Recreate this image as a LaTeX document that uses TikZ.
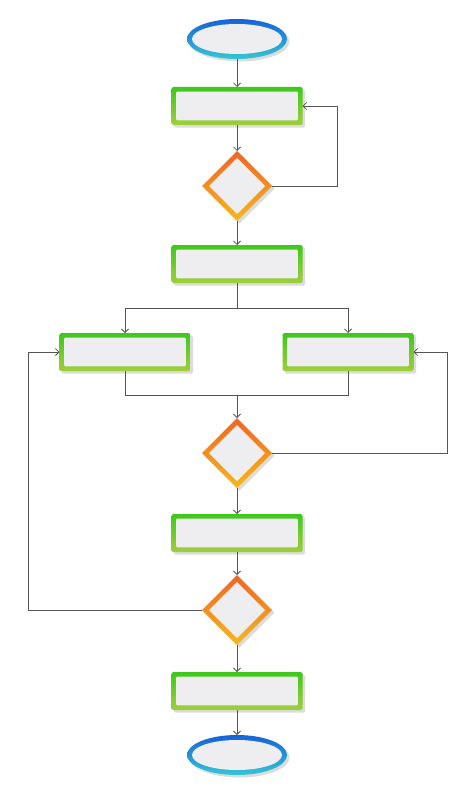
\documentclass[tikz,border=0pt]{standalone}
\usetikzlibrary{shapes.geometric,arrows.meta,shadows}
\definecolor{gtop}{HTML}{3EC81C}
\definecolor{gbot}{HTML}{A0CE3A}
\definecolor{otop}{HTML}{EE6624}
\definecolor{obot}{HTML}{F7B81C}
\definecolor{btop}{HTML}{1462D8}
\definecolor{bbot}{HTML}{36C6D4}
\definecolor{innerc}{HTML}{EEEEF1}
\definecolor{linec}{HTML}{555555}
\tikzset{
  base/.style={inner sep=0pt, outer sep=0pt, draw=none,
    drop shadow={shadow xshift=2.5pt, shadow yshift=-2.5pt, fill=black!30, opacity=0.45}},
  box/.style={base, rectangle, rounded corners=1.5pt, minimum width=131pt, minimum height=38pt,
    top color=gtop, bottom color=gbot,
    path picture={\fill[innerc, rounded corners=1pt]
      ([shift={(4.7pt,4.7pt)}]path picture bounding box.south west) rectangle
      ([shift={(-4.7pt,-4.7pt)}]path picture bounding box.north east);}},
  decis/.style={base, diamond, minimum width=70pt, minimum height=70pt,
    top color=otop, bottom color=obot,
    path picture={\fill[innerc]
      ([yshift=28pt]path picture bounding box.center) --
      ([xshift=28pt]path picture bounding box.center) --
      ([yshift=-28pt]path picture bounding box.center) --
      ([xshift=-28pt]path picture bounding box.center) -- cycle;}},
  term/.style={base, ellipse, minimum width=100pt, minimum height=40pt,
    top color=btop, bottom color=bbot,
    path picture={\fill[innerc] (path picture bounding box.center)
      ellipse [x radius=45pt, y radius=15pt];}},
  conn/.style={draw=linec, line width=0.8pt},
  arr/.style={conn, -{Straight Barb[length=3.5pt,width=7pt]}}
}
\begin{document}
\begin{tikzpicture}[x=1pt,y=-1pt]
\useasboundingbox[fill=white] (0,0) rectangle (474,797);
\node[term] (e0) at (237,39) {};
\node[box] (r1) at (237,106) {};
\node[decis] (d1) at (237,186) {};
\node[box] (r2) at (237,264) {};
\node[box] (r3) at (125,352) {};
\node[box] (r4) at (348,352) {};
\node[decis] (d2) at (237,453) {};
\node[box] (r5) at (237,533) {};
\node[decis] (d3) at (237,610) {};
\node[box] (r6) at (237,691) {};
\node[term] (e1) at (237,755) {};
\coordinate (fb1) at (337,106);
\coordinate (split) at (237,308);
\coordinate (merge) at (237,395);
\coordinate (fb2) at (447,352);
\coordinate (fb3) at (28,352);
\draw[arr] (e0) -- (r1);
\draw[arr] (r1) -- (d1);
\draw[arr] (d1.east) -| (fb1) -- (r1.east);
\draw[arr] (d1) -- (r2);
\draw[conn] (r2.south) -- (split);
\draw[arr] (split) -| (r3.north);
\draw[arr] (split) -| (r4.north);
\draw[conn] (r3.south) |- (merge);
\draw[conn] (r4.south) |- (merge);
\draw[arr] (merge) -- (d2.north);
\draw[arr] (d2.east) -| (fb2) -- (r4.east);
\draw[arr] (d2) -- (r5);
\draw[arr] (r5) -- (d3);
\draw[arr] (d3.west) -| (fb3) -- (r3.west);
\draw[arr] (d3) -- (r6);
\draw[arr] (r6) -- (e1);
\end{tikzpicture}
\end{document}
